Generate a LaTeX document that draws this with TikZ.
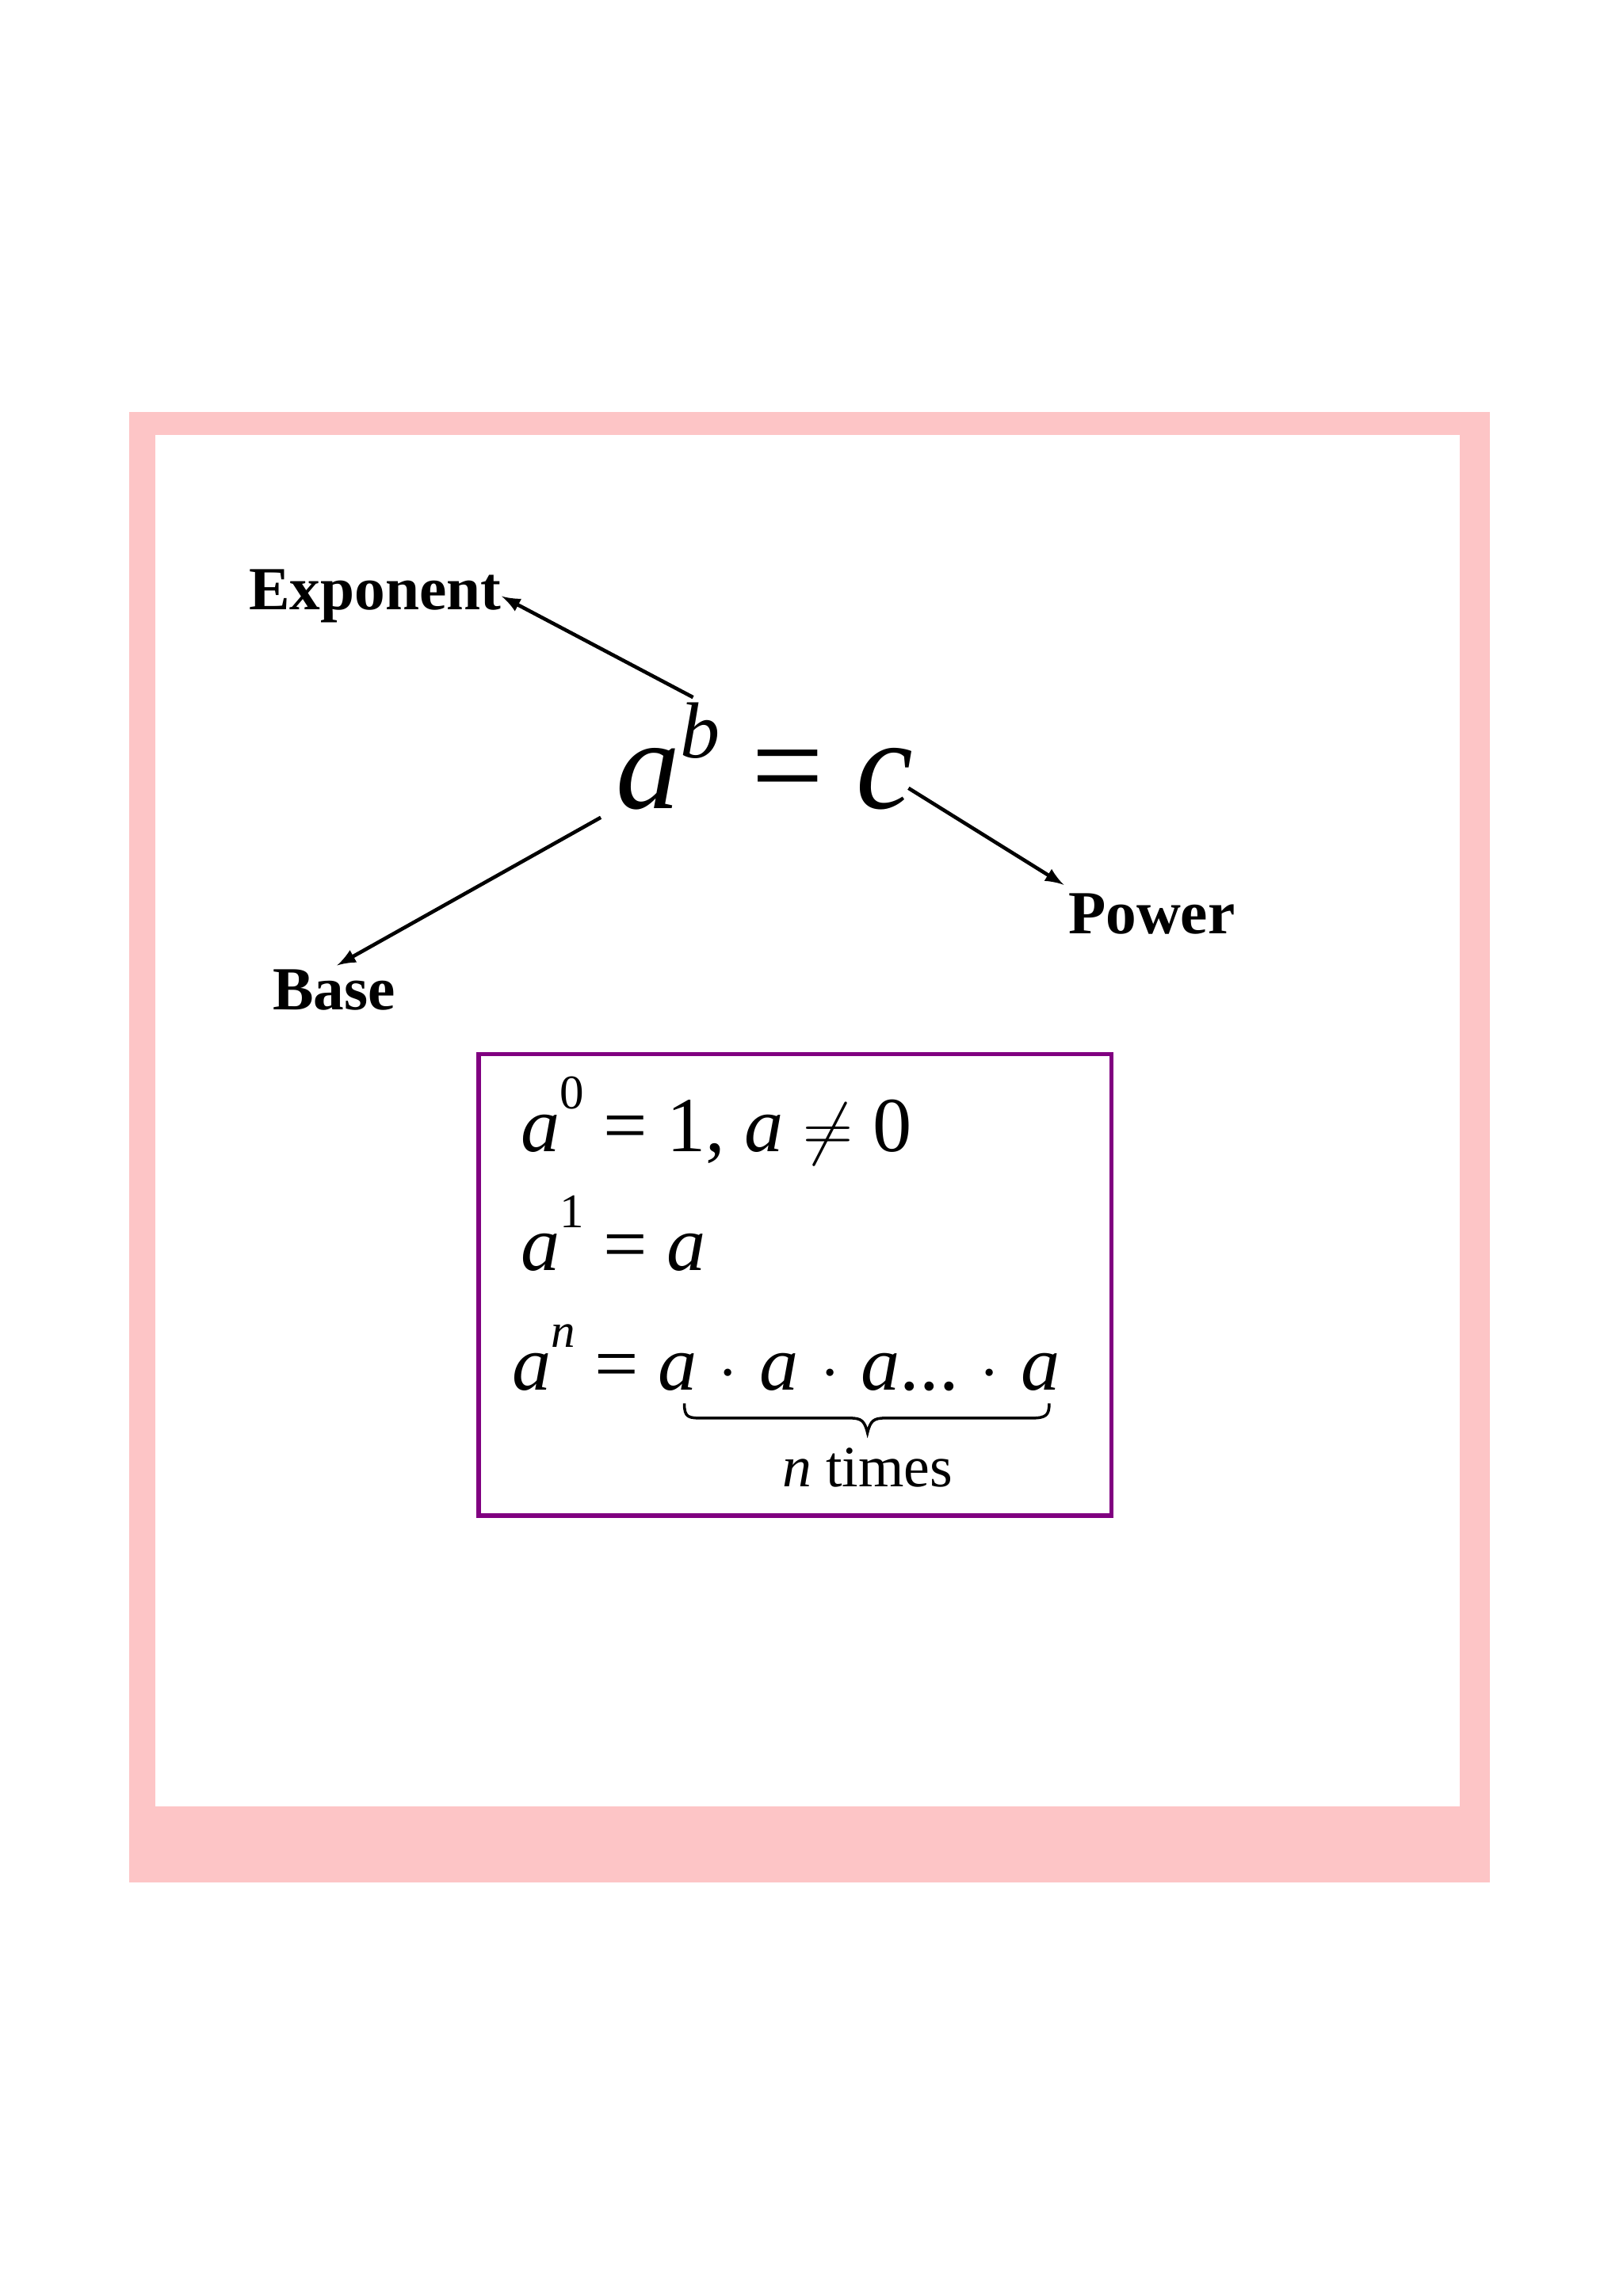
\documentclass[tikz,border=0pt]{standalone}
\usepackage{fontspec}
\setmainfont{Liberation Serif}
\usepackage{amsmath}
\newcommand{\va}{\textit{a}}
\newcommand{\sups}[1]{\raisebox{0.55em}{\scalebox{0.62}{#1}}}
\newcommand{\supb}[1]{\raisebox{0.4em}{\scalebox{0.62}{#1}}}
\newcommand{\cd}{\;$\cdot$\;}
\begin{document}
\begin{tikzpicture}[x=0.01849cm,y=-0.01849cm,
  lbl/.style={font=\fontsize{22}{26}\selectfont\bfseries, inner sep=0pt},
  arr/.style={-latex, line width=1.3pt},
  eqn/.style={font=\fontsize{28}{34}\selectfont, inner sep=0pt, anchor=base west}]
\definecolor{pinkf}{HTML}{FDC5C6}
\definecolor{purp}{HTML}{800080}
\useasboundingbox (0,0) rectangle (1107.6,1567.3);
\fill[white] (0,0) rectangle (1107.6,1567.3);
\fill[pinkf] (88,281) rectangle (1017,1285);
\fill[white] (106,297) rectangle (996,1233);
\node[lbl] (exp) at (256,407) {Exponent};
\node[lbl] (base) at (228,676) {Base};
\node[lbl] (pow) at (786,624) {Power};
\node[inner sep=0pt, anchor=base west, font=\fontsize{46}{52}\selectfont] (eq) at (420,552) {\va\supb{\textit{b}}\ = \textit{c}};
\coordinate (e1) at (473,476);
\coordinate (b1) at (410,558);
\coordinate (p1) at (620,538);
\draw[arr] (e1) -- (exp.east);
\draw[arr] (b1) -- (230,659) coordinate (b2);
\draw[arr] (p1) -- (726,604) coordinate (p2);
\node[draw=purp, line width=1.6pt, minimum width=432*0.01849cm, minimum height=315*0.01849cm, anchor=north west] (box) at (325,718) {};
\node[eqn] (l1) at (355,786) {\va\sups{0} = 1, \va\ $\neq$ 0};
\node[eqn] (l2) at (355,867) {\va\sups{1} = \va};
\node[eqn] (l3) at (349,949) {\va\sups{\textit{n}} = \va\cd\va\cd\va...\cd\va};
\draw[line width=1pt] (467,958) .. controls (467,968) and (470,968) .. (480,968) -- (580,968) .. controls (588,968) and (590,970) .. (592,978)
  .. controls (594,970) and (596,968) .. (604,968) -- (704,968) .. controls (714,968) and (716,966) .. (716,958);
\node[inner sep=0pt, font=\fontsize{21}{24}\selectfont] (nt) at (592,1002) {\textit{n} times};
\end{tikzpicture}
\end{document}
